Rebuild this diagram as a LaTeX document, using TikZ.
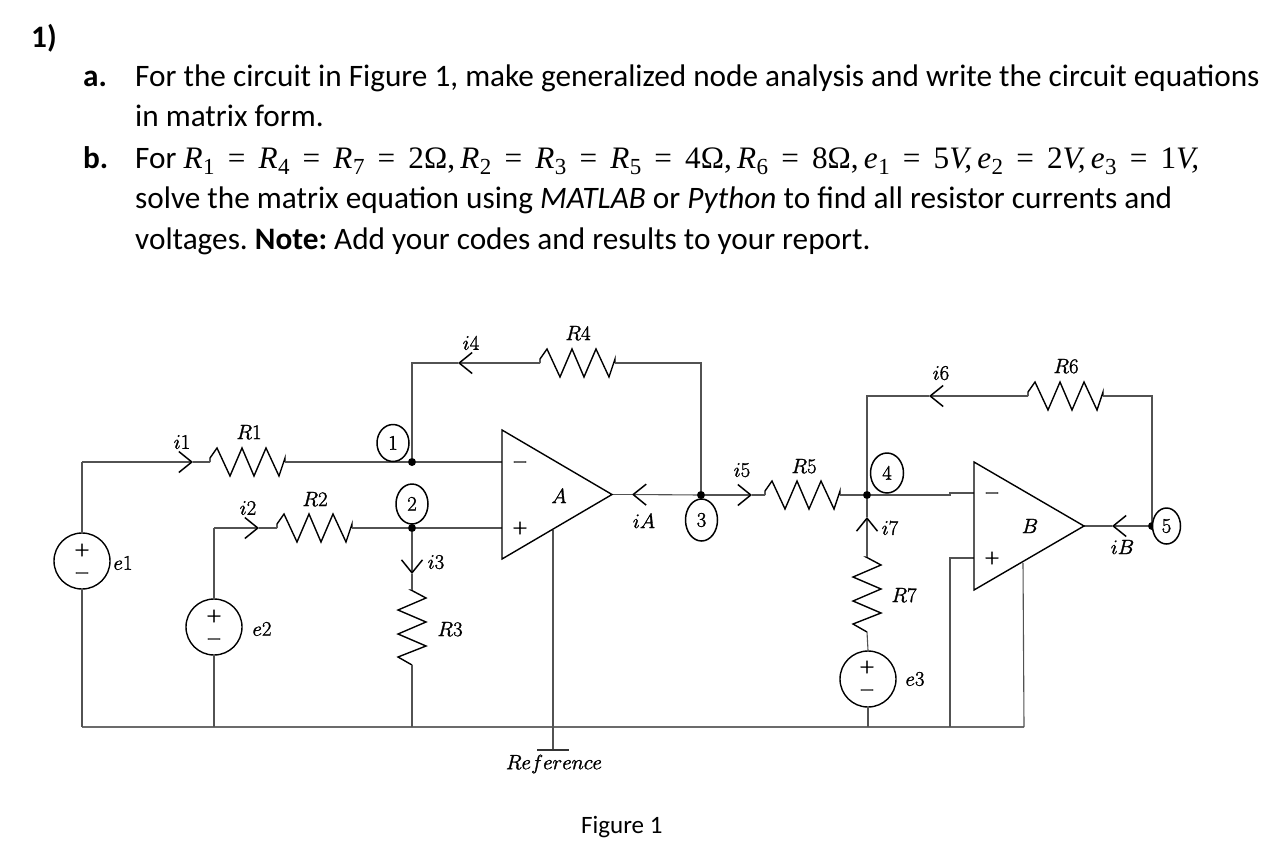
\documentclass[tikz,border=0pt]{standalone}
\usepackage{fontspec}
\usetikzlibrary{arrows.meta,shapes.geometric}
\setmainfont{Carlito}
\newfontfamily\mserif{Liberation Serif}
\newcommand{\mv}[2]{{\mserif\itshape #1\kern0.5pt}\raisebox{-0.22em}{\fontsize{23}{23}\selectfont\mserif #2}}
\newcommand{\eqs}{\hspace{0.42em}{\mserif =}\hspace{0.42em}}
\newcommand{\heavy}{\special{pdf:code 2 Tr 0.3 w}}
\tikzset{
  x=1pt,y=-1pt,
  wire/.style={draw=black!68,line width=1.1pt},
  busw/.style={draw=black!58,line width=1.9pt},
  comp/.style={draw=black,line width=1.4pt,line join=miter},
  tipw/.style={wire,-{Straight Barb[length=13pt,width=21pt,line width=1.5pt,black]}},
  lbl/.style={inner sep=0pt,font=\fontsize{21}{24}\selectfont},
  txt/.style={inner sep=0pt,anchor=base west,font=\frenchspacing\fontsize{31.25}{36}\selectfont},
  nodec/.style={ellipse,draw=black,line width=1.5pt,fill=white,inner sep=0pt,font=\fontsize{21}{24}\selectfont},
  srcc/.style={circle,draw=black,line width=1.4pt,fill=white,minimum size=56pt,inner sep=0pt},
  jdot/.style={circle,fill=black,minimum size=8pt,inner sep=0pt},
  hres/.pic={\draw[comp] (0,0)--(0,-4)--(7,-14)--(20,14)--(32,-14)--(44,14)--(56,-14)--(69,14)--(75,-4)--(75,0);
    \coordinate (-w) at (0,0); \coordinate (-e) at (75,0);},
  vres/.pic={\draw[comp] (0,0)--(-1,0)--(14,8)--(-14,20)--(14,32)--(-14,44)--(14,56)--(-14,67)--(0,75);
    \coordinate (-n) at (0,0); \coordinate (-s) at (0,75);},
}
\begin{document}
\begin{tikzpicture}
\useasboundingbox (0,0) rectangle (1282,849);
% text
\node[txt] (t0) at (31,47) {\bfseries 1)};
\node[txt] (ta) at (83,86) {\bfseries a.};
\node[txt] (t1) at (135,86) {For the circuit in Figure 1, make generalized node analysis and write the circuit equations};
\node[txt] (t2) at (135,126) {in matrix form.};
\node[txt] (tb) at (83,168) {\bfseries b.};
\node[txt] (t3) at (135,168) {For \mv{R}{1}\eqs\mv{R}{4}\eqs\mv{R}{7}\eqs{\mserif 2Ω,}\,\mv{R}{2}\eqs\mv{R}{3}\eqs\mv{R}{5}\eqs{\mserif 4Ω,}\,\mv{R}{6}\eqs{\mserif 8Ω,}\,\mv{e}{1}\eqs{\mserif 5\itshape V,}\,\mv{e}{2}\eqs{\mserif 2\itshape V,}\,\mv{e}{3}\eqs{\mserif 1\itshape V,}};
\node[txt] (t4) at (135,208) {solve the matrix equation using \textit{MATLAB} or \textit{Python} to find all resistor currents and};
\node[txt] (t5) at (135,249) {voltages. \textbf{Note:} Add your codes and results to your report.};
\node[txt,font=\fontsize{25}{30}\selectfont] (fig) at (581,833) {Figure 1};
% junctions
\node[jdot] (n1) at (412,462) {};
\node[jdot] (n2) at (412,528) {};
\node[jdot] (n3) at (701,495) {};
\node[jdot] (n4) at (867,495) {};
\node[jdot] (n5) at (1152,526) {};
% sources
\node[srcc] (e1) at (82,561) {};
\node[srcc] (e2) at (214,627) {};
\node[srcc] (e3) at (868,679) {};
% resistors
\pic (r1) at (210,462) {hres};
\pic (r2) at (277,528) {hres};
\pic (r4) at (540,363) {hres};
\pic (r5) at (765,495) {hres};
\pic (r6) at (1028,396) {hres};
\pic (r3) at (412,590) {vres};
\pic (r7) at (867,557) {vres};
% wire corners
\coordinate (bl) at (82,727);
\coordinate (br) at (1024,727);
\coordinate (bA) at (553,727);
\coordinate (g) at (553,750);
\coordinate (Ap) at (502,462);
\coordinate (Am) at (502,528);
\coordinate (Bm) at (974,493);
\coordinate (Bp) at (974,558);
\coordinate (Aout) at (612,494.5);
\coordinate (Bout) at (1084,526);
\coordinate (tA) at (632,494.5);
\coordinate (tB) at (1112,526);
% wires
\draw[busw] (bl)--(br);
\draw[wire] (e1.north)--(82,462);
\draw[tipw] (82,462)--(193,462);
\draw[wire] (193,462)--(r1-w);
\draw[wire] (r1-e)--(n1)--(Ap);
\draw[wire] (e1.south)--(bl);
\draw[wire] (e2.north)--(214,528);
\draw[tipw] (214,528)--(259,528);
\draw[wire] (259,528)--(r2-w);
\draw[wire] (r2-e)--(n2)--(Am);
\draw[wire] (e2.south)--(214,727);
\draw[tipw] (n2)--(412,574);
\draw[wire] (412,574)--(r3-n);
\draw[wire] (r3-s)--(412,727);
\draw[wire] (n1)--(412,363)--(458,363);
\draw[tipw] (r4-w)--(458,363);
\draw[wire] (r4-e)--(701,363)--(n3);
\draw[tipw] (n3)--(tA);
\draw[wire] (tA)--(Aout);
\draw[tipw] (n3)--(752,495);
\draw[wire] (752,495)--(r5-w);
\draw[wire] (r5-e)--(n4)--(950,495)--(950,493)--(Bm);
\draw[wire] (n4)--(867,396)--(929,396);
\draw[tipw] (r6-w)--(929,396);
\draw[wire] (r6-e)--(1152,396)--(n5);
\draw[tipw] (n5)--(tB);
\draw[wire] (tB)--(Bout);
\draw[tipw] (r7-n)--(867,517);
\draw[wire] (867,517)--(n4);
\draw[wire] (r7-s)--(e3.north);
\draw[wire] (e3.south)--(868,727);
\draw[wire] (bA)--(553,530);
\draw[wire] (bA)--(g);
\draw[line width=2pt,draw=black!80] (537,750)--(569,750);
\draw[wire] (Bp)--(950,558)--(950,727);
\draw[wire] (1023,563)--(br);
% op amps
\node[lbl] (oa) at (559,496) {\heavy$A$};
\node[lbl] (ob) at (1030,526) {\heavy$B$};
\draw[comp] (502,430)--(502,559)--(612,494.5)--cycle;
\draw[comp] (974,462)--(974,590)--(1084,526)--cycle;
\foreach \n/\x/\y/\s in {am/520/462/-,ap/520/528/+,bm/992/493/-,bp/992/558/+,s1p/82/550/+,s1m/82/573/-,s2p/214/616/+,s2m/214/639/-,s3p/867/667/+,s3m/867/690/-}
  \node[lbl] (\n) at (\x,\y) {\heavy$\s$};
% node circles
\node[nodec,minimum width=32pt,minimum height=37pt] (c1) at (393,443) {\heavy$1$};
\node[nodec,minimum width=32pt,minimum height=40pt] (c2) at (412,504) {\heavy$2$};
\node[nodec,minimum width=32pt,minimum height=42pt] (c3) at (701.5,520) {\heavy$3$};
\node[nodec,minimum width=33pt,minimum height=40pt] (c4) at (887,473) {\heavy$4$};
\node[nodec,minimum width=28pt,minimum height=36pt] (c5) at (1166.5,526) {\heavy$5$};
% labels
\foreach \n/\x/\y/\s in {lr1/249/432/R1,lr2/315/499/R2,lr3/450/629/R3,lr4/578/333/R4,lr5/804/466/R5,lr6/1066/366/R6,lr7/904/595/R7,
  li1/182/442/i1,li2/248/508/i2,li3/436/562/i3,li4/471/343/i4,li5/742/470/i5,li6/941/373/i6,li7/890/528/i7,
  liA/644/521/iA,liB/1122.5/547/iB,le1/123/563/e1,le2/262/629/e2,le3/915/679/e3,lref/554/764/Reference}
  \node[lbl] (\n) at (\x,\y) {\heavy$\s$};
\end{tikzpicture}
\end{document}
